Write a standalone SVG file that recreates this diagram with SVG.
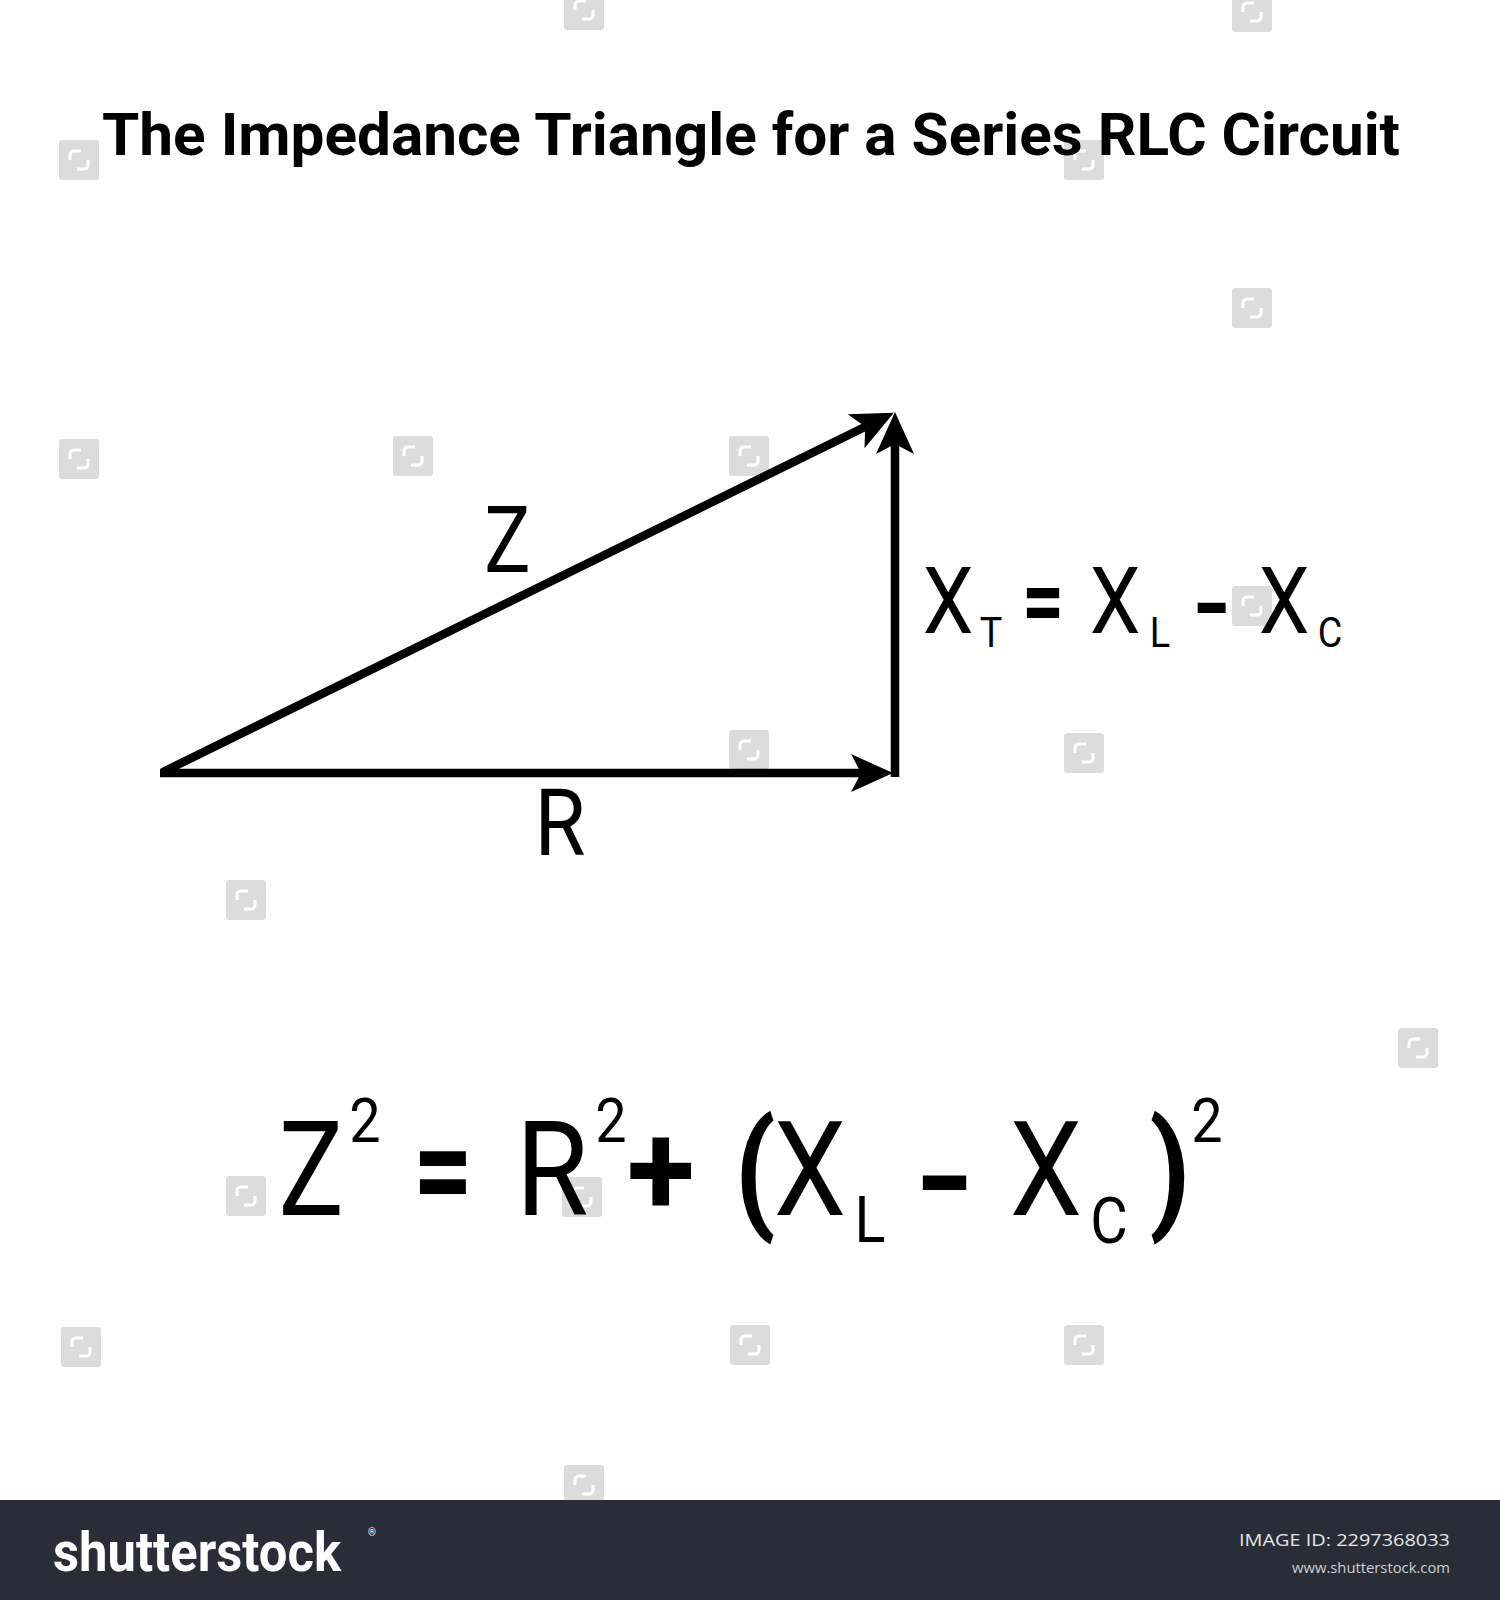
<svg xmlns="http://www.w3.org/2000/svg" width="1500" height="1600" viewBox="0 0 1500 1600">
  <style>
    .t { font-family: Roboto, "Liberation Sans", "DejaVu Sans", sans-serif; fill: #000; text-anchor: middle; }
    .lbl { font-size: 92px; }
    .sub { font-size: 42px; }
    .big { font-size: 131px; }
    .sup { font-size: 62px; }
    .bsub { font-size: 64px; }
  </style>
  <defs>
    <marker id="ah" markerUnits="userSpaceOnUse" markerWidth="60" markerHeight="60" refX="0" refY="0" orient="auto" overflow="visible">
      <path d="M21,0 L-21,-19 L-11,0 L-21,19 Z" fill="#000"/>
    </marker>
    <symbol id="wmsq" overflow="visible">
      <rect x="-20" y="-20" width="40" height="40" rx="3" fill="#dcdcdc"/>
      <path d="M2,-9 H-5 A4,4 0 0 0 -9,-5 V0 M-2,9 H5 A4,4 0 0 0 9,5 V0" fill="none" stroke="#fff" stroke-width="3"/>
    </symbol>
  </defs>
  <rect width="1500" height="1600" fill="#fff"/>

  <g id="watermark-squares">
    <use href="#wmsq" x="79" y="160"/>
    <use href="#wmsq" x="1084" y="160"/>
    <use href="#wmsq" x="1252" y="12"/>
    <use href="#wmsq" x="584" y="10"/>
    <use href="#wmsq" x="1252" y="308"/>
    <use href="#wmsq" x="79" y="459"/>
    <use href="#wmsq" x="413" y="456"/>
    <use href="#wmsq" x="749" y="456"/>
    <use href="#wmsq" x="246" y="900"/>
    <use href="#wmsq" x="749" y="750"/>
    <use href="#wmsq" x="1084" y="753"/>
    <use href="#wmsq" x="1418" y="1048"/>
    <use href="#wmsq" x="246" y="1196"/>
    <use href="#wmsq" x="582" y="1197"/>
    <use href="#wmsq" x="1252" y="606"/>
    <use href="#wmsq" x="81" y="1347"/>
    <use href="#wmsq" x="750" y="1345"/>
    <use href="#wmsq" x="1084" y="1345"/>
    <use href="#wmsq" x="584" y="1485"/>
  </g>

  <g id="title">
    <text class="t" x="102" y="155" font-size="60" font-weight="700" style="text-anchor:start" textLength="1298" lengthAdjust="spacingAndGlyphs">The Impedance Triangle for a Series RLC Circuit</text>
  </g>

  <g id="connectors" stroke="#000" stroke-width="8.5" fill="none">
    <line x1="160" y1="773" x2="872" y2="773" marker-end="url(#ah)"/>
    <line x1="895" y1="777" x2="895" y2="433" marker-end="url(#ah)"/>
    <line x1="163" y1="772" x2="875" y2="422" marker-end="url(#ah)"/>
  </g>

  <g id="label-Z">
    <text class="t lbl" transform="translate(507.5,572) scale(0.84,1)">Z</text>
  </g>
  <g id="label-R">
    <text class="t lbl" transform="translate(560,855) scale(0.9,1)">R</text>
  </g>
  <g id="label-XT">
    <text class="t lbl" transform="translate(948,633) scale(0.88,1)">X</text>
    <text class="t sub" transform="translate(991,647) scale(0.9,1)">T</text>
    <text class="t lbl" font-weight="700" transform="translate(1043,633) scale(0.8,1)">=</text>
    <text class="t lbl" transform="translate(1115,633) scale(0.88,1)">X</text>
    <text class="t sub" transform="translate(1160,647) scale(0.9,1)">L</text>
    <text class="t lbl" font-weight="700" transform="translate(1212,636) scale(1.1,1)">-</text>
    <text class="t lbl" transform="translate(1284,633) scale(0.88,1)">X</text>
    <text class="t sub" transform="translate(1330,647) scale(0.9,1)">C</text>
  </g>

  <g id="formula">
    <text class="t big" transform="translate(311,1215) scale(0.83,1)">Z</text>
    <text class="t sup" transform="translate(365,1142) scale(0.9,1)">2</text>
    <text class="t big" font-weight="700" transform="translate(443,1215) scale(0.8,1)">=</text>
    <text class="t big" transform="translate(552,1215) scale(0.9,1)">R</text>
    <text class="t sup" transform="translate(611,1142) scale(0.9,1)">2</text>
    <text class="t big" transform="translate(661,1215) scale(0.95,1)" font-weight="700">+</text>
    <text class="t big" font-weight="700" transform="translate(755,1215) scale(0.9,1)">(</text>
    <text class="t big" transform="translate(810,1215) scale(0.88,1)">X</text>
    <text class="t bsub" transform="translate(870,1242) scale(0.9,1)">L</text>
    <text class="t big" font-weight="700" transform="translate(945,1223) scale(1.2,1)">-</text>
    <text class="t big" transform="translate(1046,1215) scale(0.88,1)">X</text>
    <text class="t bsub" transform="translate(1109,1243) scale(0.9,1)">C</text>
    <text class="t big" font-weight="700" transform="translate(1170,1215) scale(0.9,1)">)</text>
    <text class="t sup" transform="translate(1207,1142) scale(0.9,1)">2</text>
  </g>

  <g id="footer">
    <rect x="0" y="1500" width="1500" height="100" fill="#282d37"/>
    <text x="53" y="1571" font-family="Roboto, 'Liberation Sans', sans-serif" font-size="56" font-weight="700" fill="#fff" textLength="288" lengthAdjust="spacingAndGlyphs">shutterstock</text>
    <text x="368" y="1536" font-family="Roboto, 'Liberation Sans', sans-serif" font-size="10" fill="#fff">®</text>
    <text x="1450" y="1546" font-family="'Open Sans', Roboto, sans-serif" font-size="16" fill="#e6e6e6" text-anchor="end" textLength="211" lengthAdjust="spacingAndGlyphs">IMAGE ID: 2297368033</text>
    <text x="1450" y="1573" font-family="'Open Sans', Roboto, sans-serif" font-size="15" fill="#d0d0d0" text-anchor="end" textLength="158" lengthAdjust="spacingAndGlyphs">www.shutterstock.com</text>
  </g>
</svg>
